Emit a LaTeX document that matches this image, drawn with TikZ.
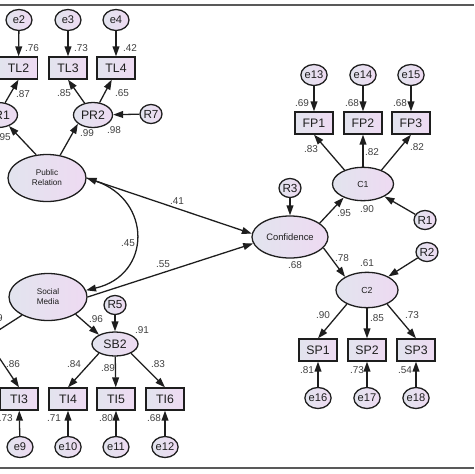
\documentclass[tikz,border=0pt]{standalone}
\usepackage{fontspec}
\setmainfont{Liberation Sans}
\usetikzlibrary{shapes.geometric,arrows.meta}
\definecolor{fillL}{RGB}{226,228,238}
\definecolor{fillR}{RGB}{238,218,242}
\definecolor{ink}{RGB}{30,30,30}
\tikzset{
  obsbox/.style={draw=ink, line width=1.1pt, left color=fillL, right color=fillR, text=ink,
    minimum width=11.4mm, minimum height=6.6mm, inner sep=0pt, font=\fontsize{10.5}{12}\selectfont},
  latent/.style={ellipse, draw=ink, line width=1.1pt, left color=fillL, right color=fillR, text=ink,
    inner sep=0pt, align=center},
  errc/.style={ellipse, draw=ink, line width=1.1pt, left color=fillL, right color=fillR, text=ink,
    minimum width=7.8mm, minimum height=6.3mm, inner sep=0pt, font=\fontsize{9.5}{11}\selectfont},
  resc/.style={errc, minimum width=6.6mm, minimum height=5.7mm, font=\fontsize{10}{11}\selectfont},
  coef/.style={font=\fontsize{8.5}{10}\selectfont, text=ink!85, inner sep=0pt},
  reg/.style={draw=ink, line width=1.1pt, -{Triangle[length=8.5pt,width=5.8pt]}},
  cov/.style={draw=ink, line width=1.1pt, {Triangle[length=8.5pt,width=5.8pt]}-{Triangle[length=8.5pt,width=5.8pt]}}
}

\begin{document}
\begin{tikzpicture}[x=0.03cm, y=-0.03cm]
\useasboundingbox (0,0) rectangle (474,474);
\clip (0,0) rectangle (474,474);
\draw[line width=1.5pt, gray!70!black] (0,5) -- (474,5);
\draw[line width=1.5pt, gray!70!black] (0,468) -- (474,468);

% public relation block
\node[errc] (e2) at (19,20) {e2};
\node[errc] (e3) at (68,20) {e3};
\node[errc] (e4) at (116,20) {e4};
\node[obsbox] (tl2) at (18.5,68) {TL2};
\node[obsbox] (tl3) at (68,68) {TL3};
\node[obsbox] (tl4) at (116,68) {TL4};
\node[latent, minimum width=11.7mm, minimum height=7.5mm, font=\fontsize{10.5}{12}\selectfont] (pr1) at (-2,115) {PR1};
\node[latent, minimum width=11.7mm, minimum height=7.5mm, font=\fontsize{10.5}{12}\selectfont] (pr2) at (93,115) {PR2};
\node[resc] (r7) at (151,114) {R7};
\node[latent, minimum width=23.4mm, minimum height=14.1mm, font=\fontsize{7}{8.5}\selectfont] (pubrel) at (47,178) {Public\\Relation};

% social media block
\node[latent, minimum width=23.4mm, minimum height=14.1mm, font=\fontsize{7}{8.5}\selectfont] (socmed) at (48,297) {Social\\Media};
\node[latent, minimum width=13.8mm, minimum height=7.2mm, font=\fontsize{10.5}{12}\selectfont] (sb1) at (-26,346) {SB1};
\node[latent, minimum width=13.8mm, minimum height=7.2mm, font=\fontsize{10.5}{12}\selectfont] (sb2) at (115,344) {SB2};
\node[resc] (r5) at (115,305) {R5};
\node[obsbox] (ti3) at (19,399) {TI3};
\node[obsbox] (ti4) at (68,399) {TI4};
\node[obsbox] (ti5) at (116,399) {TI5};
\node[obsbox] (ti6) at (165,399) {TI6};
\node[errc] (e9) at (20,447) {e9};
\node[errc] (e10) at (68,447) {e10};
\node[errc] (e11) at (116,447) {e11};
\node[errc] (e12) at (165,447) {e12};

% confidence block
\node[latent, minimum width=22.8mm, minimum height=12.6mm, font=\fontsize{8}{9}\selectfont] (conf) at (290,237) {Confidence};
\node[resc] (r3) at (290,188) {R3};
\node[latent, minimum width=18.3mm, minimum height=10mm, font=\fontsize{7.5}{9}\selectfont] (c1) at (363,184) {C1};
\node[resc] (r1) at (425,220) {R1};
\node[obsbox] (fp1) at (314,123) {FP1};
\node[obsbox] (fp2) at (363,123) {FP2};
\node[obsbox] (fp3) at (411,123) {FP3};
\node[errc] (e13) at (314,75) {e13};
\node[errc] (e14) at (363,75) {e14};
\node[errc] (e15) at (411,75) {e15};
\node[latent, minimum width=18.6mm, minimum height=10.6mm, font=\fontsize{7.5}{9}\selectfont] (c2) at (367,290) {C2};
\node[resc] (r2) at (427,252) {R2};
\node[obsbox] (sp1) at (318,350) {SP1};
\node[obsbox] (sp2) at (367,350) {SP2};
\node[obsbox] (sp3) at (416,350) {SP3};
\node[errc] (e16) at (318,398) {e16};
\node[errc] (e17) at (367,398) {e17};
\node[errc] (e18) at (416,398) {e18};

% paths
\draw[reg] (e2) -- (tl2);
\draw[reg] (e3) -- (tl3);
\draw[reg] (e4) -- (tl4);
\draw[reg] (pr1) -- (tl2.south);
\draw[reg] (pr2) -- (tl3.south);
\draw[reg] (pr2) -- (tl4.250);
\draw[reg] (r7) -- (pr2);
\draw[reg] (pubrel.115) -- (pr1.-45);
\draw[reg] (pubrel.60) -- (pr2.210);
\draw[cov] (pubrel.east) .. controls (152,200) and (152,275) .. (socmed.10);
\draw[reg] (pubrel.east) -- (conf.175);
\draw[reg] (socmed.east) -- (conf.190);
\draw[reg] (socmed.215) -- (sb1);
\draw[reg] (socmed.-32) -- (sb2.150);
\draw[reg] (r5) -- (sb2);
\draw[reg] (sb1.-15) -- (ti3.north);
\draw[reg] (sb2.210) -- (ti4.north);
\draw[reg] (sb2) -- (ti5);
\draw[reg] (sb2.-30) -- (ti6.north);
\draw[reg] (e9) -- (ti3);
\draw[reg] (e10) -- (ti4);
\draw[reg] (e11) -- (ti5);
\draw[reg] (e12) -- (ti6);
\draw[reg] (r3) -- (conf);
\draw[reg] (conf.25) -- (c1.215);
\draw[reg] (conf.-18) -- (c2.149);
\draw[reg] (r1) -- (c1);
\draw[reg] (r2) -- (c2);
\draw[reg] (c1.143) -- (fp1.south);
\draw[reg] (c1) -- (fp2);
\draw[reg] (c1.37) -- (fp3.south);
\draw[reg] (e13) -- (fp1);
\draw[reg] (e14) -- (fp2);
\draw[reg] (e15) -- (fp3);
\draw[reg] (c2.215) -- (sp1.north);
\draw[reg] (c2) -- (sp2);
\draw[reg] (c2.-35) -- (sp3.north);
\draw[reg] (e16) -- (sp1);
\draw[reg] (e17) -- (sp2);
\draw[reg] (e18) -- (sp3);

% estimates
\node[coef] (s-tl2) at (32,48) {.76};
\node[coef] (s-tl3) at (81,48) {.73};
\node[coef] (s-tl4) at (130,48) {.42};
\node[coef] (w-tl2) at (23,94) {.87};
\node[coef] (w-tl3) at (64,93) {.85};
\node[coef] (w-tl4) at (122,93) {.65};
\node[coef, anchor=east] (w-pr1) at (11,137) {.95};
\node[coef] (w-pr2) at (87,133) {.99};
\node[coef] (s-pr2) at (114,130) {.98};
\node[coef] (w-cf1) at (177,201) {.41};
\node[coef] (k-cov) at (128,243) {.45};
\node[coef] (w-cf2) at (163,264) {.55};
\node[coef] (s-conf) at (295,265) {.68};
\node[coef] (w-c1) at (344,213) {.95};
\node[coef] (s-c1) at (367,209) {.90};
\node[coef] (s-fp1) at (302,103) {.69};
\node[coef] (s-fp2) at (352,103) {.68};
\node[coef] (s-fp3) at (400,103) {.68};
\node[coef] (w-fp1) at (311,149) {.83};
\node[coef] (w-fp2) at (372,152) {.82};
\node[coef] (w-fp3) at (417,147) {.82};
\node[coef] (w-c2) at (342,258) {.78};
\node[coef] (s-c2) at (367,263) {.61};
\node[coef] (w-sp1) at (323,315) {.90};
\node[coef] (w-sp2) at (377,318) {.85};
\node[coef] (w-sp3) at (412,315) {.73};
\node[coef] (s-sp1) at (307,370) {.81};
\node[coef] (s-sp2) at (357,370) {.73};
\node[coef] (s-sp3) at (405,370) {.54};
\node[coef, anchor=east] (w-sb1) at (3,318) {.89};
\node[coef] (w-sb2) at (96,319) {.96};
\node[coef] (s-sb2) at (142,330) {.91};
\node[coef] (w-ti3) at (13,364) {.86};
\node[coef] (w-ti4) at (74,364) {.84};
\node[coef] (w-ti5) at (108,368) {.89};
\node[coef] (w-ti6) at (158,364) {.83};
\node[coef, anchor=east] (s-ti3) at (13,418) {.73};
\node[coef] (s-ti4) at (54,418) {.71};
\node[coef] (s-ti5) at (106,418) {.80};
\node[coef] (s-ti6) at (154,418) {.68};
\end{tikzpicture}
\end{document}
